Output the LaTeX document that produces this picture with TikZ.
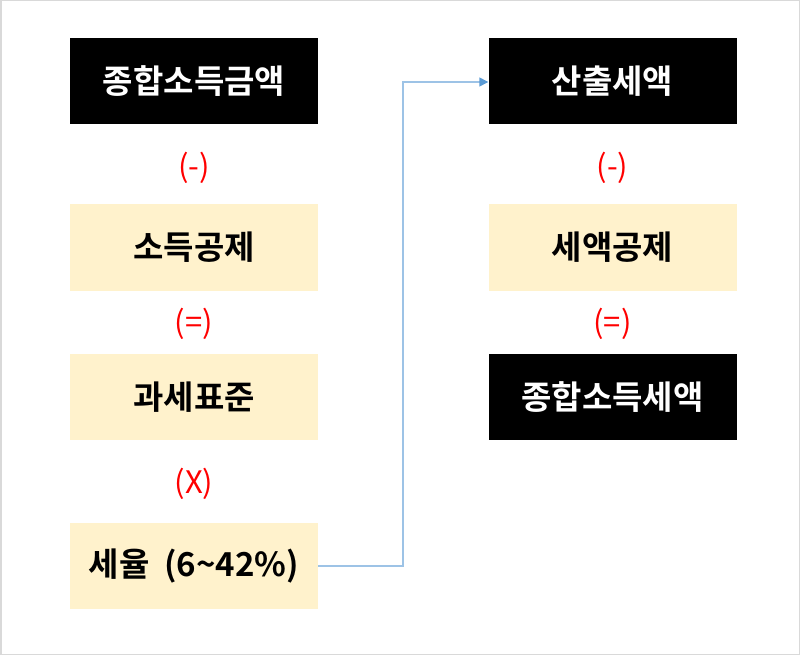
\documentclass[tikz,border=0pt]{standalone}
\usepackage{fontspec}
\setmainfont{Noto Sans CJK KR}
\newfontfamily\krb{Noto Sans CJK KR Bold}
\usetikzlibrary{arrows.meta}
\definecolor{beige}{RGB}{255,242,204}
\definecolor{lineblue}{RGB}{157,195,230}
\definecolor{tipblue}{RGB}{91,155,213}
\definecolor{frame}{RGB}{217,217,217}
\begin{document}
\begin{tikzpicture}[x=1pt,y=-1pt,
  darkbox/.style={fill=black,text=white,minimum width=248pt,minimum height=86pt,inner sep=0pt,font=\krb\fontsize{33}{38}\selectfont},
  lightbox/.style={fill=beige,text=black,minimum width=248pt,minimum height=86pt,inner sep=0pt,font=\krb\fontsize{33}{38}\selectfont},
  oplabel/.style={text=red,inner sep=0pt,font=\fontsize{31}{36}\selectfont}]
\useasboundingbox (0,0) rectangle (800,655);
\draw[frame,line width=1.5pt] (0.75,0.75) rectangle (799.25,654.25);
\node[darkbox] (a) at (194,81) {종합소득금액};
\node[oplabel] (op1) at (194,168) {(-)};
\node[lightbox] (b) at (194,247.5) {소득공제};
\node[oplabel] (op2) at (194,324) {(=)};
\node[lightbox] (c) at (194,397) {과세표준};
\node[oplabel] (op3) at (194,484) {(X)};
\node[lightbox] (d) at (194,566) {세율\hspace{0.45em}(6\textasciitilde 42\%)};
\node[darkbox] (e) at (612.5,81) {산출세액};
\node[oplabel] (op4) at (612.5,168) {(-)};
\node[lightbox] (f) at (612.5,247.5) {세액공제};
\node[oplabel] (op5) at (612.5,324) {(=)};
\node[darkbox] (g) at (612.5,397) {종합소득세액};
\coordinate (m1) at (403,566);
\coordinate (m2) at (403,82);
\draw[lineblue,line width=1.4pt,-{Triangle[length=9pt,width=9pt,color=tipblue]}] (d.east |- 0,566) -- (m1) -- (m2) -- (e.west |- 0,82);
\end{tikzpicture}
\end{document}
